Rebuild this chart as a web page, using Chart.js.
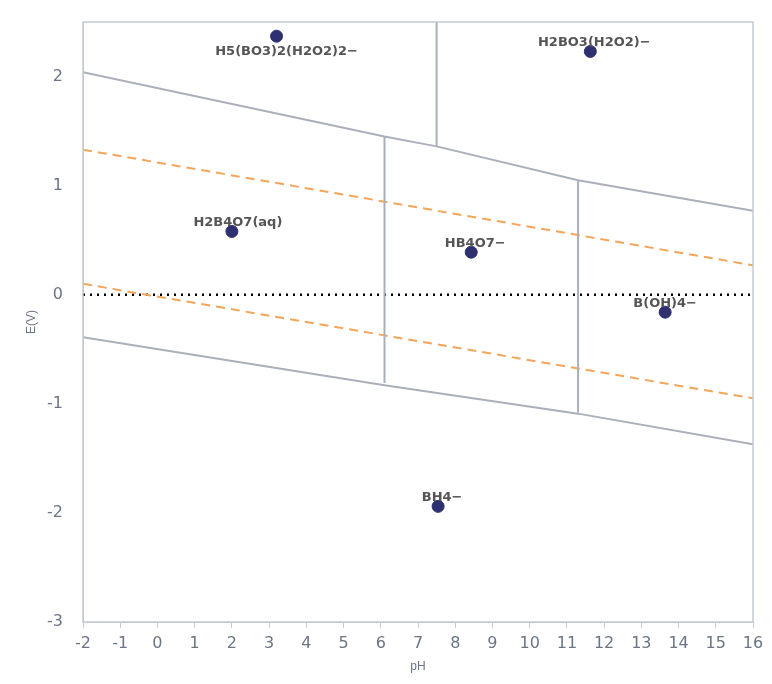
<!DOCTYPE html>
<html><head><meta charset="utf-8">
<script src="https://cdn.jsdelivr.net/npm/chart.js@4"></script>
<style>html,body{margin:0;padding:0;background:#fff}#w{width:772px;height:684px}</style>
</head><body><div id="w"><canvas id="c"></canvas></div>
<script>
const upperBoundary = [[-2,2.04],[6.1,1.45],[7.5,1.36],[11.3,1.05],[16,0.77]];
const lowerBoundary = [[-2,-0.39],[6.1,-0.83],[11.3,-1.09],[16,-1.37]];
const vLine1 = [[7.5,1.36],[7.5,2.5]];
const vLine2 = [[6.1,1.45],[6.1,-0.81]];
const vLine3 = [[11.3,1.05],[11.3,-1.08]];
const waterUpper = [[-2,1.33],[16,0.27]];
const waterLower = [[-2,0.10],[16,-0.95]];
const zeroLine = [[-2,0],[16,0]];
const speciesNames = ["H5(BO3)2(H2O2)2−","H2BO3(H2O2)−","H2B4O7(aq)","HB4O7−","B(OH)4−","BH4−"];
const speciesPH = [3.2,11.63,2.0,8.43,13.64,7.54];
const speciesE = [2.37,2.23,0.58,0.39,-0.16,-1.94];
const labelBelow = [true,false,false,false,false,false];
const labelShiftX = [10,4,6,4,0,4];

const toXY = a => a.map(p=>({x:p[0],y:p[1]}));
const gray='#a9b0bb';
const lineDs=(d,opt={})=>Object.assign({type:'line',data:toXY(d),borderColor:gray,borderWidth:2,pointRadius:0,fill:false,tension:0},opt);

const labelPlugin={id:'lbl',afterDatasetsDraw(ch){
  const ctx=ch.ctx,xs=ch.scales.x,ys=ch.scales.y;
  ctx.save();ctx.font='bold 13px "DejaVu Sans"';ctx.fillStyle='#555';ctx.textAlign='center';
  speciesNames.forEach((n,i)=>{
    const px=xs.getPixelForValue(speciesPH[i])+labelShiftX[i],py=ys.getPixelForValue(speciesE[i]);
    if(labelBelow[i]){ctx.textBaseline='top';ctx.fillText(n,px,py+9);}
    else{ctx.textBaseline='bottom';ctx.fillText(n,px,py-2);}
  });
  const a=ch.chartArea;ctx.strokeStyle='#c5cad2';ctx.lineWidth=1.5;ctx.strokeRect(a.left,a.top,a.right-a.left,a.bottom-a.top);
  ctx.restore();}};

new Chart(document.getElementById('c'),{
  data:{datasets:[
    lineDs(upperBoundary),lineDs(lowerBoundary),lineDs(vLine1),lineDs(vLine2),lineDs(vLine3),
    lineDs(waterUpper,{borderColor:'#f5a55a',borderDash:[9,6]}),
    lineDs(waterLower,{borderColor:'#f5a55a',borderDash:[9,6]}),
    lineDs(zeroLine,{borderColor:'#000',borderDash:[2,5],borderWidth:2.5}),
    {type:'scatter',data:speciesPH.map((x,i)=>({x,y:speciesE[i]})),backgroundColor:'#2e3070',borderColor:'#2e3070',pointRadius:6}
  ]},
  options:{responsive:true,maintainAspectRatio:false,animation:false,
    layout:{padding:{left:20,right:19,top:22,bottom:6}},
    plugins:{legend:{display:false},tooltip:{enabled:false}},
    scales:{
      x:{type:'linear',min:-2,max:16,ticks:{stepSize:1,padding:6,color:'#6b7585',font:{size:16,family:'DejaVu Sans'}},
        grid:{drawOnChartArea:false,color:'#c5cad2',tickLength:6},border:{color:'#c5cad2'},
        title:{display:true,text:'pH',color:'#6b7585',font:{size:12}},
        afterFit(s){s.height=56;}},
      y:{type:'linear',min:-3,max:2.5,ticks:{stepSize:1,padding:12,color:'#6b7585',font:{size:16,family:'DejaVu Sans'}},
        afterBuildTicks(s){s.ticks=s.ticks.filter(t=>Number.isInteger(t.value));},
        grid:{drawOnChartArea:false,display:false},border:{color:'#c5cad2'},
        title:{display:true,text:'E(V)',color:'#6b7585',font:{size:12}},
        afterFit(s){s.width=63;}}
    }},
  plugins:[labelPlugin]
});
</script></body></html>
